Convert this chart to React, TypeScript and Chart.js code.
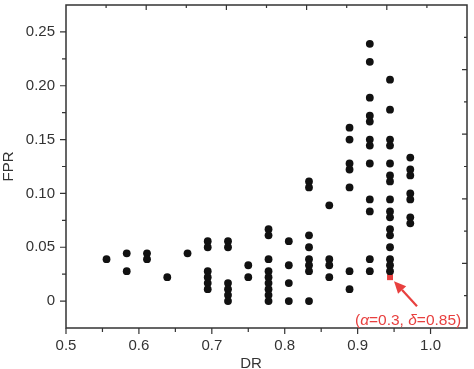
import React, { useEffect, useRef } from 'react';
import { Chart, registerables } from 'chart.js';

Chart.register(...registerables);

// DR value of each column of points
const drColumns = [
  0.5556, 0.5833, 0.6111, 0.6389, 0.6667, 0.6944, 0.7222, 0.75,
  0.7778, 0.8056, 0.8333, 0.8611, 0.8889, 0.9167, 0.9444, 0.9722,
];

// FPR values of the points in each column (same order as drColumns)
const fprColumns: number[][] = [
  [0.0389],
  [0.0444, 0.0278],
  [0.0444, 0.0389],
  [0.0222],
  [0.0444],
  [0.0556, 0.05, 0.0278, 0.0222, 0.0167, 0.0111],
  [0.0556, 0.05, 0.0167, 0.0111, 0.0056, 0],
  [0.0333, 0.0222],
  [0.0667, 0.0611, 0.0389, 0.0278, 0.0222, 0.0167, 0.0111, 0.0056, 0],
  [0.0556, 0.0333, 0.0167, 0],
  [0.1111, 0.1056, 0.0611, 0.05, 0.0389, 0.0333, 0.0278, 0],
  [0.0889, 0.0389, 0.0333, 0.0222],
  [0.1611, 0.15, 0.1278, 0.1222, 0.1056, 0.0278, 0.0111],
  [0.2389, 0.2222, 0.1889, 0.1722, 0.1667, 0.15, 0.1444, 0.1278, 0.0944, 0.0833, 0.0389, 0.0278],
  [0.2056, 0.1778, 0.15, 0.1444, 0.1278, 0.1167, 0.1111, 0.0944, 0.0833, 0.0778, 0.0667, 0.0611, 0.05, 0.0389, 0.0333, 0.0278],
  [0.1333, 0.1222, 0.1167, 0.1, 0.0944, 0.0778, 0.0722],
];

// highlighted configuration
const highlightDR = [0.9444];
const highlightFPR = [0.0222];
const annotationParts: [string, boolean][] = [
  ['(', false], ['α', true], ['=0.3, ', false], ['δ', true], ['=0.85)', false],
];

// axes
const xRange = [0.5, 1.05];
const yRange = [-0.025, 0.275];
const xTicks = [0.5, 0.6, 0.7, 0.8, 0.9, 1.0];
const xMinorTicks = [0.55, 0.65, 0.75, 0.85, 0.95];
const yTicks = [0, 0.05, 0.1, 0.15, 0.2, 0.25];
const yMinorTicks = [0.025, 0.075, 0.125, 0.175, 0.225];
const xTitle = 'DR';
const yTitle = 'FPR';

const FONT = "'Liberation Sans', Arial, Helvetica, sans-serif";
const AXIS = '#333333';
const RED = '#e8403f';

const framePlugin = {
  id: 'frame',
  afterDraw(chart: any) {
    const { ctx, chartArea: a, scales } = chart;
    const xs = scales.x;
    const ys = scales.y;
    ctx.save();
    // box
    ctx.strokeStyle = AXIS;
    ctx.lineWidth = 1.5;
    ctx.strokeRect(a.left, a.top, a.right - a.left, a.bottom - a.top);
    // ticks
    ctx.lineWidth = 1.2;
    ctx.beginPath();
    xTicks.forEach((v) => {
      const p = xs.getPixelForValue(v);
      ctx.moveTo(p, a.bottom); ctx.lineTo(p, a.bottom + 6);
    });
    xMinorTicks.forEach((v) => {
      const p = xs.getPixelForValue(v);
      ctx.moveTo(p, a.bottom); ctx.lineTo(p, a.bottom + 4);
    });
    yTicks.forEach((v) => {
      const p = ys.getPixelForValue(v);
      ctx.moveTo(a.left, p); ctx.lineTo(a.left - 6, p);
    });
    yMinorTicks.forEach((v) => {
      const p = ys.getPixelForValue(v);
      ctx.moveTo(a.left, p); ctx.lineTo(a.left - 4, p);
    });
    // mirrored inner ticks on top and right
    for (let i = 1; i < 10; i++) {
      const len = i % 2 === 0 ? 5 : 3;
      const px = a.left + ((a.right - a.left) * i) / 10;
      ctx.moveTo(px, a.top); ctx.lineTo(px, a.top + len);
      const py = a.top + ((a.bottom - a.top) * i) / 10;
      ctx.moveTo(a.right, py); ctx.lineTo(a.right - len, py);
    }
    ctx.stroke();

    // axis titles
    ctx.fillStyle = AXIS;
    ctx.font = `15px ${FONT}`;
    ctx.textAlign = 'center';
    ctx.textBaseline = 'middle';
    ctx.fillText(xTitle, 251, 364);
    ctx.save();
    ctx.translate(9, (a.top + a.bottom) / 2);
    ctx.rotate(-Math.PI / 2);
    ctx.fillText(yTitle, 0, 0);
    ctx.restore();

    // annotation arrow
    const hx = xs.getPixelForValue(highlightDR[0]);
    const hy = ys.getPixelForValue(highlightFPR[0]);
    const headX = hx + 4, headY = hy + 4;
    const tailX = hx + 27, tailY = hy + 29;
    const ang = Math.atan2(headY - tailY, headX - tailX);
    const hl = 12, hw = 5.5;
    const baseX = headX - hl * Math.cos(ang);
    const baseY = headY - hl * Math.sin(ang);
    ctx.strokeStyle = RED;
    ctx.fillStyle = RED;
    ctx.lineWidth = 2.2;
    ctx.beginPath();
    ctx.moveTo(tailX, tailY);
    ctx.lineTo(baseX, baseY);
    ctx.stroke();
    ctx.beginPath();
    ctx.moveTo(headX, headY);
    ctx.lineTo(baseX + hw * Math.sin(ang), baseY - hw * Math.cos(ang));
    ctx.lineTo(baseX - hw * Math.sin(ang), baseY + hw * Math.cos(ang));
    ctx.closePath();
    ctx.fill();

    // annotation text
    ctx.textAlign = 'left';
    ctx.textBaseline = 'alphabetic';
    let tx = hx - 35;
    const ty = hy + 48;
    annotationParts.forEach(([s, it]) => {
      ctx.font = `${it ? 'italic ' : ''}15.5px ${FONT}`;
      ctx.fillText(s, tx, ty);
      tx += ctx.measureText(s).width;
    });
    ctx.restore();
  },
};

export default function App() {
  const ref = useRef<HTMLCanvasElement | null>(null);

  useEffect(() => {
    if (!ref.current) return;
    const points: { x: number; y: number }[] = [];
    drColumns.forEach((dr, i) => {
      fprColumns[i].forEach((f) => points.push({ x: dr, y: f }));
    });
    const hl = highlightDR.map((d, i) => ({ x: d, y: highlightFPR[i] }));

    const chart = new Chart(ref.current, {
      type: 'scatter',
      data: {
        datasets: [
          {
            data: points,
            backgroundColor: '#111111',
            borderColor: '#111111',
            borderWidth: 0,
            pointRadius: 3.9,
            pointHoverRadius: 3.9,
          },
          {
            data: hl,
            pointStyle: 'rect',
            backgroundColor: RED,
            borderColor: RED,
            borderWidth: 0,
            pointRadius: 4.2,
            pointHoverRadius: 4.2,
          },
        ],
      },
      options: {
        animation: false,
        responsive: false,
        devicePixelRatio: 1,
        events: [],
        layout: { padding: { left: 0, top: 5, right: 7, bottom: 0 } },
        plugins: { legend: { display: false }, tooltip: { enabled: false } },
        scales: {
          x: {
            type: 'linear',
            min: xRange[0],
            max: xRange[1],
            grid: { display: false, drawTicks: false },
            border: { display: false },
            ticks: {
              color: AXIS,
              padding: 9,
              autoSkip: false,
              maxRotation: 0,
              font: { family: FONT, size: 15 },
              callback: (v: any) => Number(v).toFixed(1),
            },
            afterBuildTicks: (s: any) => { s.ticks = xTicks.map((v) => ({ value: v })); },
            afterFit: (s: any) => {
              s.height = 41;
              s.paddingLeft = 0; s.paddingRight = 0; s.paddingTop = 0; s.paddingBottom = 0;
            },
          },
          y: {
            type: 'linear',
            min: yRange[0],
            max: yRange[1],
            grid: { display: false, drawTicks: false },
            border: { display: false },
            ticks: {
              color: AXIS,
              padding: 11,
              autoSkip: false,
              font: { family: FONT, size: 15 },
              callback: (v: any) => (Number(v) === 0 ? '0' : Number(v).toFixed(2)),
            },
            afterBuildTicks: (s: any) => { s.ticks = yTicks.map((v) => ({ value: v })); },
            afterFit: (s: any) => {
              s.width = 66;
              s.paddingLeft = 0; s.paddingRight = 0; s.paddingTop = 0; s.paddingBottom = 0;
            },
          },
        },
      },
      plugins: [framePlugin],
    });
    return () => chart.destroy();
  }, []);

  return (
    <div style={{ position: 'fixed', left: 0, top: 0, width: 474, height: 369, background: '#fff' }}>
      <canvas ref={ref} width={474} height={369} style={{ display: 'block' }} />
    </div>
  );
}
